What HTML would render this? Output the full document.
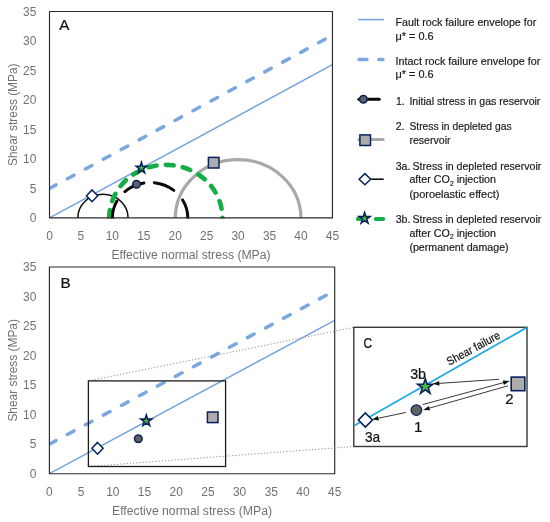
<!DOCTYPE html>
<html lang="en"><head><meta charset="utf-8"><title>Mohr circles and failure envelopes</title>
<style>html,body{margin:0;padding:0;background:#fff}svg{display:block}text{font-family:"Liberation Sans", sans-serif}</style>
</head><body>
<svg width="550" height="522" viewBox="0 0 550 522">
<rect width="550" height="522" fill="#fff"/>
<g id="plotA">
<text x="36.4" y="222.1" font-size="12.5" fill="#717171" text-anchor="end" textLength="6.65" lengthAdjust="spacingAndGlyphs">0</text>
<text x="36.4" y="192.61" font-size="12.5" fill="#717171" text-anchor="end" textLength="6.65" lengthAdjust="spacingAndGlyphs">5</text>
<text x="36.4" y="163.13" font-size="12.5" fill="#717171" text-anchor="end" textLength="13.3" lengthAdjust="spacingAndGlyphs">10</text>
<text x="36.4" y="133.64" font-size="12.5" fill="#717171" text-anchor="end" textLength="13.3" lengthAdjust="spacingAndGlyphs">15</text>
<text x="36.4" y="104.16" font-size="12.5" fill="#717171" text-anchor="end" textLength="13.3" lengthAdjust="spacingAndGlyphs">20</text>
<text x="36.4" y="74.67" font-size="12.5" fill="#717171" text-anchor="end" textLength="13.3" lengthAdjust="spacingAndGlyphs">25</text>
<text x="36.4" y="45.19" font-size="12.5" fill="#717171" text-anchor="end" textLength="13.3" lengthAdjust="spacingAndGlyphs">30</text>
<text x="36.4" y="15.7" font-size="12.5" fill="#717171" text-anchor="end" textLength="13.3" lengthAdjust="spacingAndGlyphs">35</text>
<text x="49.5" y="239.8" font-size="12.5" fill="#717171" text-anchor="middle" textLength="6.65" lengthAdjust="spacingAndGlyphs">0</text>
<text x="80.94" y="239.8" font-size="12.5" fill="#717171" text-anchor="middle" textLength="6.65" lengthAdjust="spacingAndGlyphs">5</text>
<text x="112.38" y="239.8" font-size="12.5" fill="#717171" text-anchor="middle" textLength="13.3" lengthAdjust="spacingAndGlyphs">10</text>
<text x="143.82" y="239.8" font-size="12.5" fill="#717171" text-anchor="middle" textLength="13.3" lengthAdjust="spacingAndGlyphs">15</text>
<text x="175.26" y="239.8" font-size="12.5" fill="#717171" text-anchor="middle" textLength="13.3" lengthAdjust="spacingAndGlyphs">20</text>
<text x="206.69" y="239.8" font-size="12.5" fill="#717171" text-anchor="middle" textLength="13.3" lengthAdjust="spacingAndGlyphs">25</text>
<text x="238.13" y="239.8" font-size="12.5" fill="#717171" text-anchor="middle" textLength="13.3" lengthAdjust="spacingAndGlyphs">30</text>
<text x="269.57" y="239.8" font-size="12.5" fill="#717171" text-anchor="middle" textLength="13.3" lengthAdjust="spacingAndGlyphs">35</text>
<text x="301.01" y="239.8" font-size="12.5" fill="#717171" text-anchor="middle" textLength="13.3" lengthAdjust="spacingAndGlyphs">40</text>
<text x="332.45" y="239.8" font-size="12.5" fill="#717171" text-anchor="middle" textLength="13.3" lengthAdjust="spacingAndGlyphs">45</text>
<text x="190.97" y="259" font-size="12.5" fill="#717171" text-anchor="middle" textLength="159" lengthAdjust="spacingAndGlyphs">Effective normal stress (MPa)</text>
<text x="0" y="0" font-size="12.5" fill="#717171" text-anchor="middle" textLength="102.5" lengthAdjust="spacingAndGlyphs" transform="translate(16.9 114.7) rotate(-90)">Shear stress (MPa)</text>
<text x="59.2" y="30.4" font-size="15.2" fill="#111" text-anchor="start" stroke="#111" stroke-width="0.22">A</text>
<clipPath id="clipA"><rect x="49.5" y="11.5" width="283.95" height="207"/></clipPath>
<g clip-path="url(#clipA)">
<line x1="49.5" y1="188.41" x2="328.68" y2="37.24" stroke="#7ba7e1" stroke-width="3.5" stroke-linecap="round" stroke-dasharray="7.4 13"/>
<line x1="49.5" y1="217.9" x2="332.45" y2="64.69" stroke="#74a3de" stroke-width="1.4"/>
<path d="M175.26 217.9 A62.88 58.97 0 0 1 301.01 217.9" fill="none" stroke="#a8a8a8" stroke-width="3.2"/>
<path d="M77.8 217.9 A25.15 23.59 0 0 1 128.1 217.9" fill="none" stroke="#111" stroke-width="1.5"/>
<path d="M109.23 217.9 A56.59 53.07 0 0 1 222.41 217.9" fill="none" stroke="#16ad46" stroke-width="4.6" stroke-linecap="round" stroke-dasharray="7.9 9.3"/>
<path d="M112.38 217.9 A37.73 35.38 0 0 1 116.95 201.02" fill="none" stroke="#0a0a0a" stroke-width="3" stroke-linecap="round"/>
<path d="M124.86 191.61 A37.73 35.38 0 0 1 143.88 183" fill="none" stroke="#0a0a0a" stroke-width="3" stroke-linecap="round"/>
<path d="M154.38 182.74 A37.73 35.38 0 0 1 173.85 190.4" fill="none" stroke="#0a0a0a" stroke-width="3" stroke-linecap="round"/>
<path d="M182.61 199.94 A37.73 35.38 0 0 1 187.83 217.9" fill="none" stroke="#0a0a0a" stroke-width="3" stroke-linecap="round"/>
</g>
<rect x="49.5" y="11.5" width="282.95" height="206.4" fill="none" stroke="#2a2a2a" stroke-width="1.15" stroke-linejoin="round"/>
<polygon points="92.1,189.9 97.7,195.8 92.1,201.7 86.5,195.8" fill="#ffffff" stroke="#08225f" stroke-width="1.5"/>
<circle cx="136.5" cy="184.2" r="3.8" fill="#616161" stroke="#08225f" stroke-width="1.5"/>
<polygon points="141.4,162.32 142.61,166.31 146.54,166.31 143.36,168.78 144.57,172.77 141.4,170.31 138.23,172.77 139.44,168.78 136.26,166.31 140.19,166.31" fill="#4cbb35" stroke="#08225f" stroke-width="1.55" stroke-linejoin="miter"/>
<rect x="208.4" y="157.4" width="10.6" height="10.6" fill="#acacac" stroke="#08225f" stroke-width="1.5"/>
</g>
<g id="plotB">
<text x="36.4" y="477.9" font-size="12.5" fill="#717171" text-anchor="end" textLength="6.65" lengthAdjust="spacingAndGlyphs">0</text>
<text x="36.4" y="448.37" font-size="12.5" fill="#717171" text-anchor="end" textLength="6.65" lengthAdjust="spacingAndGlyphs">5</text>
<text x="36.4" y="418.84" font-size="12.5" fill="#717171" text-anchor="end" textLength="13.3" lengthAdjust="spacingAndGlyphs">10</text>
<text x="36.4" y="389.31" font-size="12.5" fill="#717171" text-anchor="end" textLength="13.3" lengthAdjust="spacingAndGlyphs">15</text>
<text x="36.4" y="359.79" font-size="12.5" fill="#717171" text-anchor="end" textLength="13.3" lengthAdjust="spacingAndGlyphs">20</text>
<text x="36.4" y="330.26" font-size="12.5" fill="#717171" text-anchor="end" textLength="13.3" lengthAdjust="spacingAndGlyphs">25</text>
<text x="36.4" y="300.73" font-size="12.5" fill="#717171" text-anchor="end" textLength="13.3" lengthAdjust="spacingAndGlyphs">30</text>
<text x="36.4" y="271.2" font-size="12.5" fill="#717171" text-anchor="end" textLength="13.3" lengthAdjust="spacingAndGlyphs">35</text>
<text x="49.4" y="495.7" font-size="12.5" fill="#717171" text-anchor="middle" textLength="6.65" lengthAdjust="spacingAndGlyphs">0</text>
<text x="81.1" y="495.7" font-size="12.5" fill="#717171" text-anchor="middle" textLength="6.65" lengthAdjust="spacingAndGlyphs">5</text>
<text x="112.8" y="495.7" font-size="12.5" fill="#717171" text-anchor="middle" textLength="13.3" lengthAdjust="spacingAndGlyphs">10</text>
<text x="144.5" y="495.7" font-size="12.5" fill="#717171" text-anchor="middle" textLength="13.3" lengthAdjust="spacingAndGlyphs">15</text>
<text x="176.2" y="495.7" font-size="12.5" fill="#717171" text-anchor="middle" textLength="13.3" lengthAdjust="spacingAndGlyphs">20</text>
<text x="207.9" y="495.7" font-size="12.5" fill="#717171" text-anchor="middle" textLength="13.3" lengthAdjust="spacingAndGlyphs">25</text>
<text x="239.6" y="495.7" font-size="12.5" fill="#717171" text-anchor="middle" textLength="13.3" lengthAdjust="spacingAndGlyphs">30</text>
<text x="271.3" y="495.7" font-size="12.5" fill="#717171" text-anchor="middle" textLength="13.3" lengthAdjust="spacingAndGlyphs">35</text>
<text x="303" y="495.7" font-size="12.5" fill="#717171" text-anchor="middle" textLength="13.3" lengthAdjust="spacingAndGlyphs">40</text>
<text x="334.7" y="495.7" font-size="12.5" fill="#717171" text-anchor="middle" textLength="13.3" lengthAdjust="spacingAndGlyphs">45</text>
<text x="192.05" y="515" font-size="12.5" fill="#717171" text-anchor="middle" textLength="160" lengthAdjust="spacingAndGlyphs">Effective normal stress (MPa)</text>
<text x="0" y="0" font-size="12.5" fill="#717171" text-anchor="middle" textLength="102.5" lengthAdjust="spacingAndGlyphs" transform="translate(16.9 370.35) rotate(-90)">Shear stress (MPa)</text>
<text x="60.4" y="288.2" font-size="15.2" fill="#111" text-anchor="start" stroke="#111" stroke-width="0.22">B</text>
<clipPath id="clipB"><rect x="49.4" y="267" width="286.3" height="207.3"/></clipPath>
<g clip-path="url(#clipB)">
<line x1="49.4" y1="444.17" x2="330.9" y2="292.78" stroke="#7ba7e1" stroke-width="3.5" stroke-linecap="round" stroke-dasharray="7.5 12.95"/>
<line x1="49.4" y1="473.7" x2="334.7" y2="320.27" stroke="#74a3de" stroke-width="1.4"/>
</g>
<rect x="49.4" y="267" width="285.3" height="206.7" fill="none" stroke="#2a2a2a" stroke-width="1.15" stroke-linejoin="round"/>
<line x1="88.4" y1="380.9" x2="353.7" y2="327.4" stroke="#858585" stroke-width="0.9" stroke-dasharray="1.2 2"/>
<line x1="88.4" y1="466.5" x2="353.7" y2="446.5" stroke="#858585" stroke-width="0.9" stroke-dasharray="1.2 2"/>
<rect x="88.4" y="380.9" width="137.2" height="85.6" fill="none" stroke="#1c1c1c" stroke-width="1.3"/>
<polygon points="97.5,442.4 103.1,448.3 97.5,454.2 91.9,448.3" fill="#ffffff" stroke="#08225f" stroke-width="1.5"/>
<circle cx="138.3" cy="438.8" r="3.8" fill="#616161" stroke="#08225f" stroke-width="1.5"/>
<polygon points="146.3,415.1 147.6,419.11 151.82,419.11 148.41,421.58 149.71,425.59 146.3,423.12 142.89,425.59 144.19,421.58 140.78,419.11 145,419.11" fill="#4cbb35" stroke="#08225f" stroke-width="1.55" stroke-linejoin="miter"/>
<rect x="207.4" y="412" width="10.6" height="10.6" fill="#acacac" stroke="#08225f" stroke-width="1.5"/>
</g>
<g id="insetC">
<rect x="353.8" y="327.3" width="173.2" height="119.2" fill="#fff" stroke="#383838" stroke-width="1.4"/>
<line x1="354.4" y1="425.5" x2="526.6" y2="327.6" stroke="#1eaae8" stroke-width="1.8"/>
<text x="363.6" y="347.5" font-size="15.2" fill="#111" text-anchor="start" textLength="8.6" lengthAdjust="spacingAndGlyphs" stroke="#111" stroke-width="0.22">C</text>
<text x="0" y="0" font-size="11.6" fill="#111" text-anchor="start" textLength="59" lengthAdjust="spacingAndGlyphs" transform="translate(449.3 365.8) rotate(-28.5)" stroke="#111" stroke-width="0.2">Shear failure</text>
<polygon points="365.4,413 372.4,420 365.4,427 358.4,420" fill="#ffffff" stroke="#08225f" stroke-width="1.7"/>
<circle cx="416.4" cy="410.1" r="5.3" fill="#616161" stroke="#08225f" stroke-width="1.3"/>
<polygon points="425.3,378.6 427.12,384.2 433,384.2 428.24,387.66 430.06,393.25 425.3,389.79 420.54,393.25 422.36,387.66 417.6,384.2 423.48,384.2" fill="#4cbb35" stroke="#08225f" stroke-width="1.5" stroke-linejoin="miter"/>
<rect x="511.2" y="377.1" width="13.6" height="13.6" fill="#acacac" stroke="#08225f" stroke-width="1.6"/>
<line x1="499.2" y1="379.3" x2="438.29" y2="383.43" stroke="#222" stroke-width="0.9"/>
<polygon points="432.8,383.8 439.13,381.07 439.44,385.66" fill="#111"/>
<line x1="422.6" y1="404.6" x2="504.29" y2="382.44" stroke="#222" stroke-width="0.9"/>
<polygon points="509.6,381 503.93,384.92 502.72,380.48" fill="#111"/>
<line x1="508" y1="385.8" x2="428.49" y2="408.4" stroke="#222" stroke-width="0.9"/>
<polygon points="423.2,409.9 428.82,405.91 430.08,410.34" fill="#111"/>
<line x1="406" y1="412.4" x2="377.38" y2="418.46" stroke="#222" stroke-width="0.9"/>
<polygon points="372,419.6 377.88,416 378.84,420.5" fill="#111"/>
<text x="410.2" y="379" font-size="15" fill="#111" text-anchor="start" textLength="15.8" lengthAdjust="spacingAndGlyphs" stroke="#111" stroke-width="0.22">3b</text>
<text x="505.2" y="403.6" font-size="15" fill="#111" text-anchor="start" stroke="#111" stroke-width="0.22">2</text>
<text x="414" y="432.3" font-size="15" fill="#111" text-anchor="start" stroke="#111" stroke-width="0.22">1</text>
<text x="364.9" y="441.9" font-size="15" fill="#111" text-anchor="start" textLength="15.2" lengthAdjust="spacingAndGlyphs" stroke="#111" stroke-width="0.22">3a</text>
</g>
<g id="legend">
<line x1="358.2" y1="19.6" x2="384" y2="19.6" stroke="#74a3de" stroke-width="1.6"/>
<text x="395.5" y="26.1" font-size="10.6" fill="#1a1a1a" text-anchor="start" textLength="140.7" lengthAdjust="spacingAndGlyphs" stroke="#1a1a1a" stroke-width="0.18">Fault rock failure envelope for</text>
<text x="395.5" y="39.7" font-size="10.6" fill="#1a1a1a" text-anchor="start" textLength="38.2" lengthAdjust="spacingAndGlyphs" stroke="#1a1a1a" stroke-width="0.18">μ* = 0.6</text>
<line x1="359" y1="59.5" x2="383" y2="59.5" stroke="#7ba7e1" stroke-width="3.4" stroke-linecap="round" stroke-dasharray="8 11.8"/>
<text x="395.5" y="64.7" font-size="10.6" fill="#1a1a1a" text-anchor="start" textLength="144.8" lengthAdjust="spacingAndGlyphs" stroke="#1a1a1a" stroke-width="0.18">Intact rock failure envelope for</text>
<text x="395.5" y="78.3" font-size="10.6" fill="#1a1a1a" text-anchor="start" textLength="38.2" lengthAdjust="spacingAndGlyphs" stroke="#1a1a1a" stroke-width="0.18">μ* = 0.6</text>
<line x1="358.9" y1="99.2" x2="379.2" y2="99.2" stroke="#0a0a0a" stroke-width="3" stroke-linecap="round"/>
<circle cx="363.4" cy="99.2" r="3.8" fill="#616161" stroke="#08225f" stroke-width="1.5"/>
<text x="395.9" y="104.7" font-size="10.6" fill="#1a1a1a" text-anchor="start" stroke="#1a1a1a" stroke-width="0.18">1.</text>
<text x="409.4" y="104.7" font-size="10.6" fill="#1a1a1a" text-anchor="start" textLength="131" lengthAdjust="spacingAndGlyphs" stroke="#1a1a1a" stroke-width="0.18">Initial stress in gas reservoir</text>
<line x1="358.9" y1="139.5" x2="383.2" y2="139.5" stroke="#a8a8a8" stroke-width="3" stroke-linecap="round"/>
<rect x="359.9" y="134.9" width="10.6" height="10.6" fill="#acacac" stroke="#08225f" stroke-width="1.5"/>
<text x="395.7" y="130" font-size="10.6" fill="#1a1a1a" text-anchor="start" stroke="#1a1a1a" stroke-width="0.18">2.</text>
<text x="409.4" y="130" font-size="10.6" fill="#1a1a1a" text-anchor="start" textLength="102.2" lengthAdjust="spacingAndGlyphs" stroke="#1a1a1a" stroke-width="0.18">Stress in depleted gas</text>
<text x="409.4" y="144.1" font-size="10.6" fill="#1a1a1a" text-anchor="start" textLength="41.2" lengthAdjust="spacingAndGlyphs" stroke="#1a1a1a" stroke-width="0.18">reservoir</text>
<line x1="364" y1="179.2" x2="383.7" y2="179.2" stroke="#000" stroke-width="1.5"/>
<polygon points="364.9,173.6 370.7,179.2 364.9,184.8 359.1,179.2" fill="#ffffff" stroke="#08225f" stroke-width="1.5"/>
<text x="395.7" y="169.9" font-size="10.6" fill="#1a1a1a" text-anchor="start" stroke="#1a1a1a" stroke-width="0.18">3a.</text>
<text x="412.5" y="169.9" font-size="10.6" fill="#1a1a1a" text-anchor="start" textLength="128.8" lengthAdjust="spacingAndGlyphs" stroke="#1a1a1a" stroke-width="0.18">Stress in depleted reservoir</text>
<text x="409.4" y="183.4" font-size="10.6" fill="#1a1a1a" textLength="86.6" lengthAdjust="spacingAndGlyphs" stroke="#1a1a1a" stroke-width="0.18">after CO<tspan font-size="6.6" dy="2.2">2</tspan><tspan dy="-2.2"> injection</tspan></text>
<text x="409.4" y="197.6" font-size="10.6" fill="#1a1a1a" text-anchor="start" textLength="90" lengthAdjust="spacingAndGlyphs" stroke="#1a1a1a" stroke-width="0.18">(poroelastic effect)</text>
<line x1="357.8" y1="219" x2="383.6" y2="219" stroke="#16ad46" stroke-width="4" stroke-linecap="round" stroke-dasharray="7.4 10.6"/>
<polygon points="364.6,212.6 365.9,216.61 370.12,216.61 366.71,219.08 368.01,223.09 364.6,220.62 361.19,223.09 362.49,219.08 359.08,216.61 363.3,216.61" fill="#4cbb35" stroke="#08225f" stroke-width="1.55" stroke-linejoin="miter"/>
<text x="395.7" y="223.4" font-size="10.6" fill="#1a1a1a" text-anchor="start" stroke="#1a1a1a" stroke-width="0.18">3b.</text>
<text x="412.5" y="223.4" font-size="10.6" fill="#1a1a1a" text-anchor="start" textLength="128.8" lengthAdjust="spacingAndGlyphs" stroke="#1a1a1a" stroke-width="0.18">Stress in depleted reservoir</text>
<text x="409.4" y="236.7" font-size="10.6" fill="#1a1a1a" textLength="86.6" lengthAdjust="spacingAndGlyphs" stroke="#1a1a1a" stroke-width="0.18">after CO<tspan font-size="6.6" dy="2.2">2</tspan><tspan dy="-2.2"> injection</tspan></text>
<text x="409.4" y="250.5" font-size="10.6" fill="#1a1a1a" text-anchor="start" textLength="99.2" lengthAdjust="spacingAndGlyphs" stroke="#1a1a1a" stroke-width="0.18">(permanent damage)</text>
</g>
</svg>
</body></html>
